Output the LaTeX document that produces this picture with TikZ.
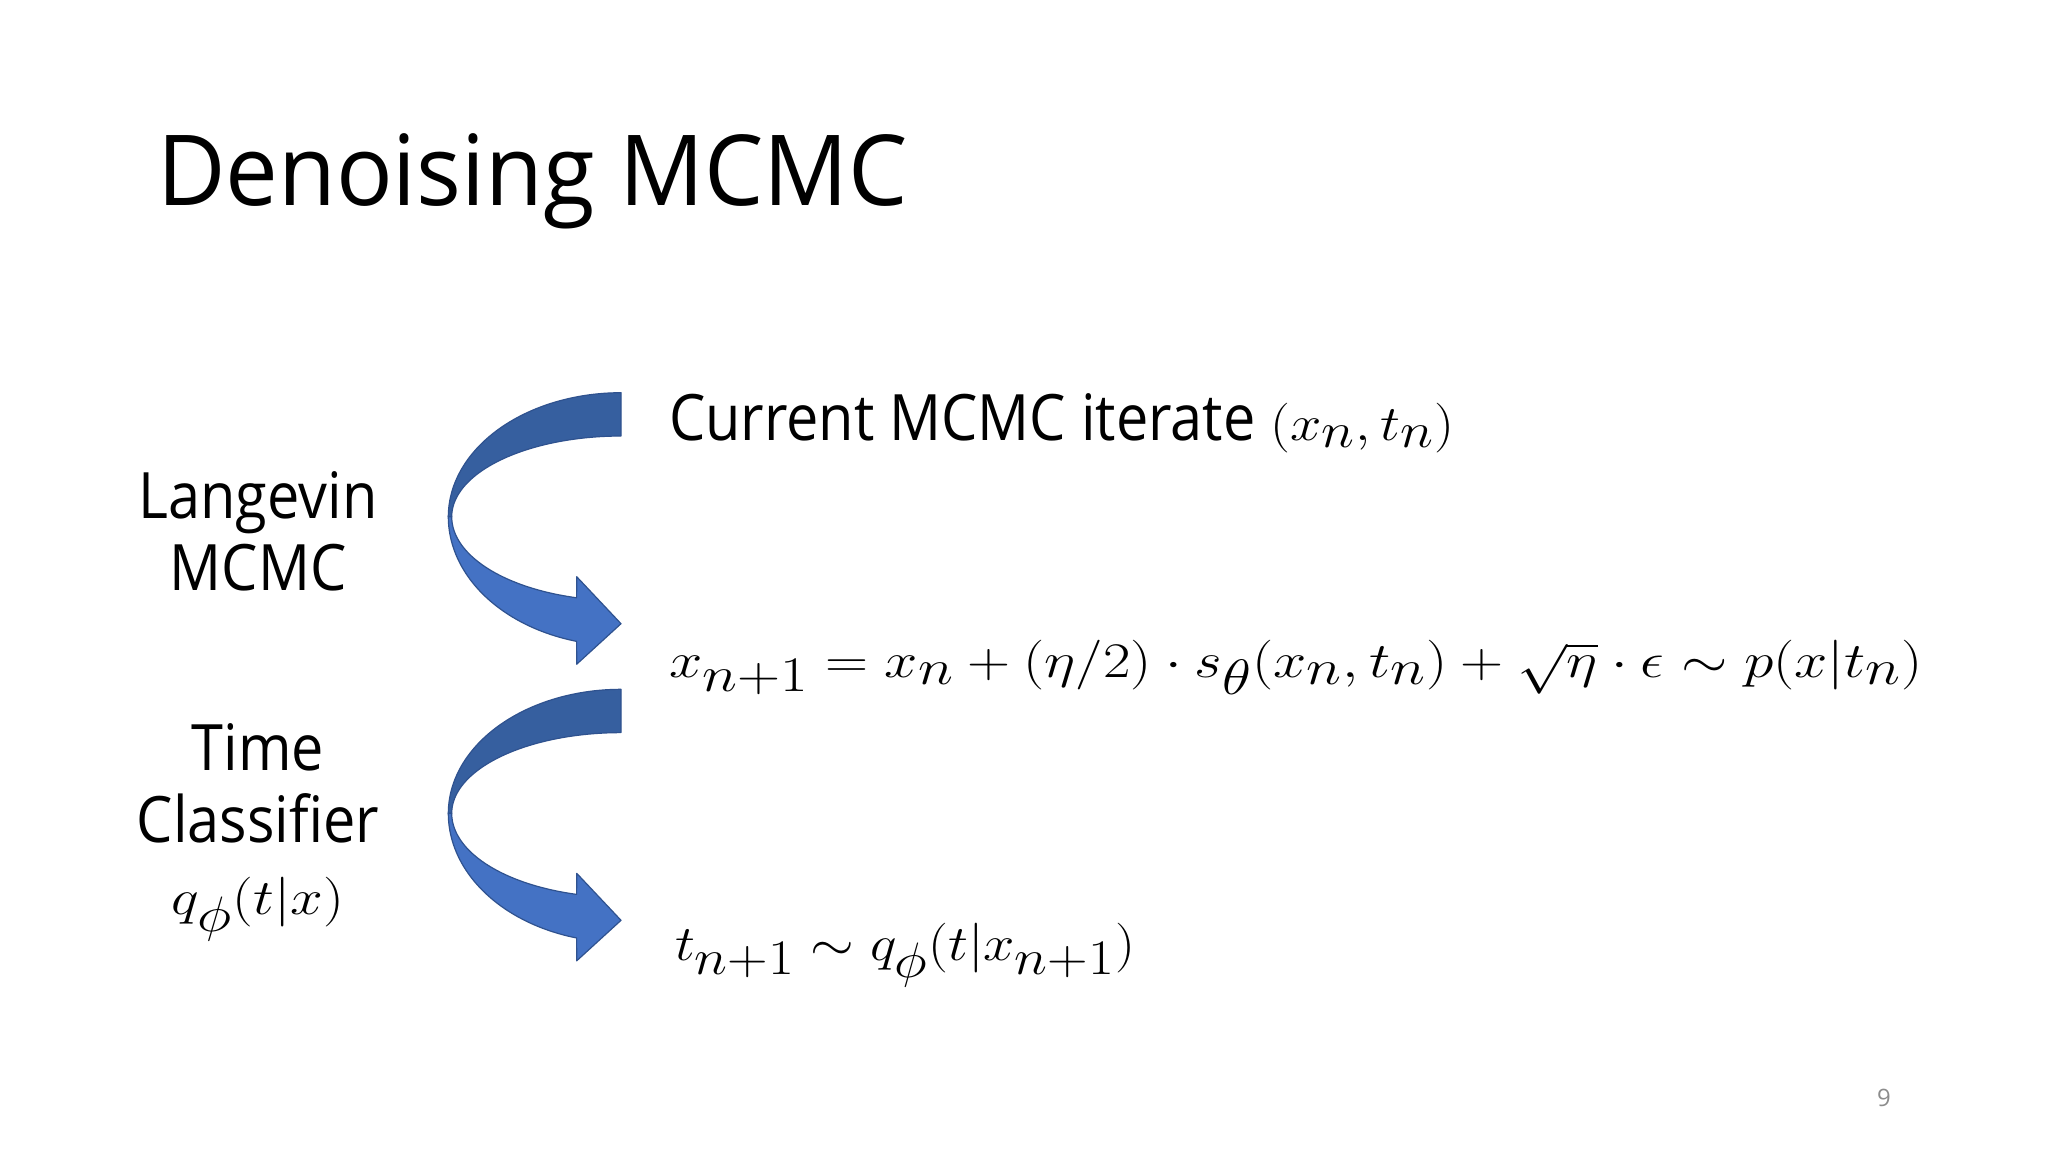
\documentclass[tikz,border=0pt]{standalone}
\usepackage{graphicx}
\usepackage{fontspec}
\setmainfont{Open Sans}
\newfontfamily\titlefont[FakeStretch=0.96]{Open Sans}
\newfontfamily\bodyfont[FakeStretch=0.9]{Open Sans}
\newcommand\mymath[3][1.13]{\scalebox{#1}[1]{\fontsize{#2}{#2}\selectfont$#3$}}
\definecolor{bandback}{HTML}{365F9F}
\definecolor{bandfront}{HTML}{4472C4}
\definecolor{bandline}{HTML}{2F528F}
\definecolor{pagegray}{HTML}{8C8C8C}
\tikzset{
  txt/.style={inner sep=0pt, outer sep=0pt, text=black},
  titletxt/.style={txt, font=\titlefont\fontsize{49}{58}\selectfont},
  bodytxt/.style={txt, font=\bodyfont\fontsize{32}{38}\selectfont},
  curvarrow/.pic={
    \filldraw[fill=bandback, draw=bandline, line width=0.6pt, line join=round]
      plot[domain=270:180, samples=50] ({172.7*cos(\x)},{124*sin(\x)})
      -- plot[domain=180:270, samples=50] ({169.3*cos(\x)},{80.7*sin(\x)})
      -- cycle;
    \filldraw[fill=bandfront, draw=bandline, line width=0.6pt, line join=round]
      plot[domain=180:104.9, samples=50] ({172.7*cos(\x)},{129*sin(\x)})
      -- (-44.3,147.5) -- (0,107) -- (-44.3,60)
      -- plot[domain=105.2:180, samples=50] ({169.3*cos(\x)},{84*sin(\x)})
      -- cycle;
  }
}
\begin{document}
\begin{tikzpicture}[x=0.5pt, y=-0.5pt]
\useasboundingbox (0,0) rectangle (2048,1152);
\fill[white] (0,0) rectangle (2048,1152);

\node[titletxt, anchor=base west] (title) at (157,205) {Denoising MCMC};

\pic at (621,516.7) {curvarrow};
\pic at (621,813.3) {curvarrow};

\node[bodytxt, anchor=base west] (cur) at (669,440) {Current MCMC iterate \mymath{35}{(x_n, t_n)}};
\node[bodytxt, anchor=base west] (eqx) at (669,677) {\mymath[1.2]{35}{x_{n+1} = x_n + (\eta/2)\cdot s_\theta(x_n, t_n) + \sqrt{\eta}\cdot \epsilon \sim p(x|t_n)}};
\node[bodytxt, anchor=base west] (eqt) at (675,960) {\mymath{35}{t_{n+1} \sim q_\phi(t|x_{n+1})}};

\node[bodytxt, anchor=base] (lang1) at (258,518) {Langevin};
\node[bodytxt, anchor=base] (lang2) at (258,590) {MCMC};
\node[bodytxt, anchor=base] (time1) at (258,770) {Time};
\node[bodytxt, anchor=base] (time2) at (258,842) {Classifier};
\node[bodytxt, anchor=base] (time3) at (258,914) {\mymath[1.18]{43}{q_\phi(t|x)}};

\node[txt, anchor=base, text=pagegray, font=\fontsize{12}{14}\selectfont] (pnum) at (1884,1106) {9};
\end{tikzpicture}
\end{document}
